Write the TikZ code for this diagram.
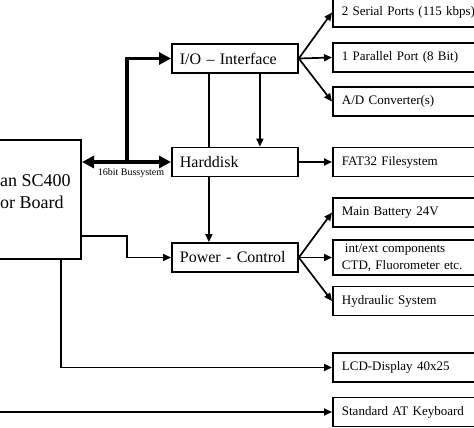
\documentclass[tikz,border=0pt]{standalone}
\usepackage{fontspec}
\setmainfont{Liberation Serif}
\usetikzlibrary{arrows.meta}
\tikzset{>={Triangle[length=8pt,width=7pt]}}
\tikzset{
  block/.style={draw, line width=1.8pt, anchor=west, minimum height=29pt,
    text width=110pt, inner xsep=8pt, align=left, font=\fontsize{16}{18}\selectfont},
  unit/.style={draw, line width=1.8pt, anchor=west, minimum height=29pt,
    text width=160pt, inner xsep=9pt, align=left, font=\fontsize{13}{17}\selectfont},
  board/.style={draw, line width=1.8pt, anchor=north east, minimum width=162pt, minimum height=119pt},
  link/.style={line width=1.7pt},
  bus/.style={line width=3.8pt, >={Triangle[length=12pt,width=12pt]}}
}

\begin{document}
\begin{tikzpicture}[x=1pt,y=-1pt]
                \useasboundingbox (0,0) rectangle (474,428);
                \clip (0,0) rectangle (474,428);

                \node[board] (cpu) at (82,139) {};
                \node[anchor=west, align=left, inner sep=0pt, font=\fontsize{18}{22}\selectfont] (cpulabel) at (0,192) {an SC400\\or Board};

                \node[block] (io) at (171,58.5) {I/O -- Interface};
                \node[block] (hd) at (171,162) {Harddisk};
                \node[block] (pc) at (171,257.5) {Power - Control};

                \node[unit] (serial) at (332,12.5) {2 Serial Ports (115 kbps)};
                \node[unit] (parallel) at (332,57.5) {1 Parallel Port (8 Bit)};
                \node[unit] (adc) at (332,101.5) {A/D Converter(s)};
                \node[unit] (fat) at (332,162) {FAT32 Filesystem};
                \node[unit] (battery) at (332,212.5) {Main Battery 24V};
                \node[unit] (intext) at (332,257.5) {\hspace*{3pt}int/ext components\\CTD, Fluorometer etc.};
                \node[unit] (hydraulic) at (332,301) {Hydraulic System};
                \node[unit] (lcd) at (332,367.5) {LCD-Display 40x25};
                \node[unit] (kbd) at (332,412) {Standard AT Keyboard};

                \coordinate (busout) at (82,162);
                \coordinate (busjoin) at (127,162);
                \coordinate (pwrout) at (82,236);
                \coordinate (lcdout) at (61,258);
                \coordinate (kbout) at (-20,258);

                \draw[bus,<->] (busout) -- (hd.west);
                \draw[bus,->] (busjoin) |- (io.west);
                \node[inner sep=0pt, font=\fontsize{10}{12}\selectfont] (buslabel) at (131,173) {16bit Bussystem};

                \draw[link,->] (pwrout) -- ++(45,0) |- (pc.west);
                \draw[link,->] (lcdout) |- (lcd.west);
                \draw[link,->] (kbout) |- (kbd.west);

                \draw[link] ([xshift=-26pt]io.south) -- ([xshift=-26pt]hd.north);
                \draw[link,->] ([xshift=25pt]io.south) -- ([xshift=25pt]hd.north);
                \draw[link,->] ([xshift=-26pt]hd.south) -- ([xshift=-26pt]pc.north);

                \foreach \t in {serial,parallel,adc}
                    \draw[link,->] (io.east) -- (\t.west);
                \draw[link,->] (hd.east) -- (fat.west);
                \foreach \t in {battery,intext,hydraulic}
                    \draw[link,->] (pc.east) -- (\t.west);

            \end{tikzpicture}
\end{document}
